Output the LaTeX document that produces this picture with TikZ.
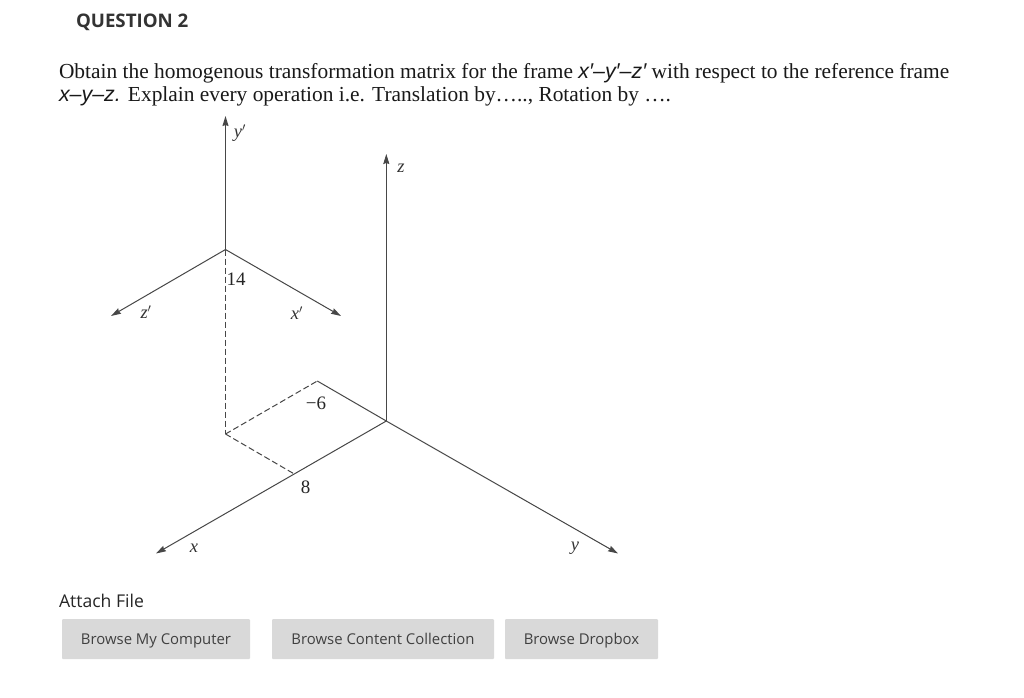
\documentclass[tikz,border=0pt]{standalone}
\usepackage{fontspec}
\setmainfont{Liberation Serif}
\newfontfamily\uifont{Open Sans}
\newfontfamily\axisfont{Liberation Sans}
\usetikzlibrary{arrows.meta}
\newcommand{\ax}[1]{{\axisfont\itshape #1}}
\tikzset{
  every node/.style={inner sep=0pt,outer sep=0pt},
  axisline/.style={draw=black!72,line width=1pt,-{Stealth[length=10pt,width=6pt,inset=1pt]}},
  plainline/.style={draw=black!72,line width=1pt},
  dashline/.style={draw=black!72,line width=1pt,dash pattern=on 6pt off 3pt},
  para/.style={anchor=base west,font=\fontsize{21.4}{24}\selectfont,text=black!90},
  lab/.style={font=\fontsize{18.5}{18}\selectfont\itshape,text=black!80},
  num/.style={font=\fontsize{19}{18}\selectfont,text=black!85},
  btn/.style={fill=black!15,rounded corners=1pt,anchor=north west,font=\uifont\fontsize{14.9}{18}\selectfont,text=black!75,align=center,text height=12pt,text depth=2pt},
}
\begin{document}
\begin{tikzpicture}[x=1pt,y=-1pt]
\useasboundingbox (0,0) rectangle (1024,697);
\fill[white] (0,0) rectangle (1024,697);
\node[anchor=base west,font=\uifont\bfseries\fontsize{18.7}{22}\selectfont,text=black!80] (title) at (76,27) {QUESTION 2};
\node[para] (line1) at (59,78) {Obtain the homogenous transformation matrix for the frame \ax{x′–y′–z′} with respect to the reference frame};
\node[para] (line2) at (59,101) {\ax{x–y–z.} Explain every operation i.e. Translation by….., Rotation by ….};
% frame points
\coordinate (Op) at (225.5,249.5);
\coordinate (ypt) at (225.5,116);
\coordinate (zpt) at (111,316);
\coordinate (xpt) at (341,316);
\coordinate (O) at (386.3,421);
\coordinate (ztip) at (386.3,154);
\coordinate (xtip) at (156,553.5);
\coordinate (ytip) at (618,553.5);
\coordinate (C) at (225.5,434);
\coordinate (Am6) at (317.3,381);
\coordinate (A8) at (293.5,473.5);
\draw[axisline] (Op) -- (ypt);
\draw[axisline] (Op) -- (zpt);
\draw[axisline] (Op) -- (xpt);
\draw[axisline] (O) -- (ztip);
\draw[axisline] (O) -- (xtip);
\draw[axisline] (O) -- (ytip);
\draw[plainline] (O) -- (Am6);
\draw[dashline] (Op) -- (C);
\draw[dashline] (C) -- (Am6);
\draw[dashline] (C) -- (A8);
\node[lab] (ly') at (240,133) {$\mathit{y}'$};
\node[lab] (lz) at (401,168) {z};
\node[lab] (lz') at (146,312) {$\mathit{z}'$};
\node[lab] (lx') at (297,313) {$\mathit{x}'$};
\node[num] (l14) at (236,279) {14};
\node[num] (lm6) at (316,403) {−6};
\node[num] (l8) at (305.5,487) {8};
\node[lab] (lx) at (194,548) {x};
\node[lab] (ly) at (575,548) {y};
\node[anchor=base west,font=\uifont\fontsize{17.6}{20}\selectfont,text=black!85] (attach) at (59,607.5) {Attach File};
\node[btn,minimum width=188pt,minimum height=40pt] (b1) at (62,619) {Browse My Computer};
\node[btn,minimum width=222pt,minimum height=40pt] (b2) at (272,619) {Browse Content Collection};
\node[btn,minimum width=153pt,minimum height=40pt] (b3) at (505,619) {Browse Dropbox};
\end{tikzpicture}
\end{document}
